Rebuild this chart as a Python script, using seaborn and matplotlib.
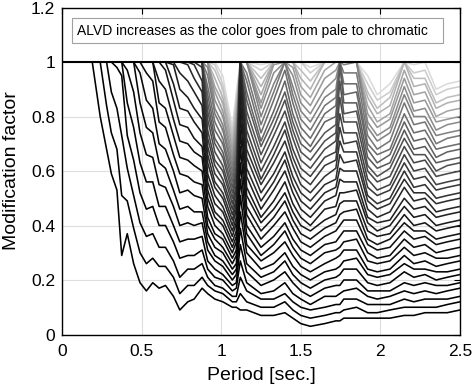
import numpy as np
import pandas as pd
import seaborn as sns
from matplotlib import pyplot as plt
from matplotlib.patches import Rectangle

### 0. Data ==============================================================
# Periods [sec.] at which the curves were read off the figure
period = [0.19, 0.24, 0.28, 0.31, 0.345, 0.375, 0.41, 0.45, 0.49, 0.53,
          0.57, 0.61, 0.65, 0.70, 0.74, 0.79, 0.83, 0.88, 0.915, 0.96,
          1.01, 1.07, 1.095, 1.12, 1.16, 1.25, 1.33, 1.40, 1.45, 1.50,
          1.56, 1.65, 1.72, 1.745, 1.77, 1.85, 1.92, 1.98, 2.06, 2.15,
          2.21, 2.28, 2.35, 2.42, 2.50]

# Modification factor (%) at each period, one row per period, curves
# listed from the darkest (largest ALVD) to the palest; 100 = capped at 1
factor_pct = [
    [100] * 34,  # 0.19
    [80] + [100] * 33,  # 0.24
    [68, 84] + [100] * 32,  # 0.28
    [59, 74, 89] + [100] * 31,  # 0.31
    [53, 68, 83, 98] + [100] * 30,  # 0.345
    [29, 51, 73, 95] + [100] * 30,  # 0.375
    [37, 49, 61, 73, 85, 97] + [100] * 28,  # 0.41
    [26, 39, 51, 64, 76, 89] + [100] * 28,  # 0.45
    [19, 30, 41, 52, 63, 74, 85, 96] + [100] * 26,  # 0.49
    [16, 26, 36, 46, 56, 66, 76, 86, 96] + [100] * 25,  # 0.53
    [19, 28, 37, 47, 56, 65, 74, 83, 93] + [100] * 25,  # 0.57
    [17, 25, 32, 40, 47, 55, 63, 70, 78, 85, 93] + [100] * 23,  # 0.61
    [18, 25, 32, 40, 47, 54, 61, 68, 76, 83, 90, 97] + [100] * 22,  # 0.65
    [14, 21, 27, 34, 40, 47, 53, 60, 66, 73, 79, 86, 92, 99] + [100] * 20,  # 0.70
    [9, 15, 21, 28, 34, 40, 46, 52, 59, 65, 71, 77, 83, 90, 96] + [100] * 19,  # 0.74
    [12, 18, 24, 29, 35, 41, 47, 53, 58, 64, 70, 76, 82, 87, 93, 99] + [100] * 18,  # 0.79
    [13, 18, 24, 29, 35, 40, 45, 51, 56, 62, 67, 72, 78, 83, 89, 94, 99] + [100] * 17,  # 0.83
    [17, 21, 26, 31, 36, 41, 45, 50, 55, 60, 65, 69, 74, 79, 84, 89, 93, 98] + [100] * 16,  # 0.88
    [15, 18, 21, 24, 27, 31, 34, 37, 40, 43, 47, 50, 53, 56, 59, 63, 66, 69,
     72, 75, 79, 82, 85, 88, 91, 95, 98] + [100] * 7,  # 0.915
    [13, 16, 18, 21, 24, 27, 29, 32, 35, 37, 40, 43, 45, 48, 51, 54, 56, 59,
     62, 64, 67, 70, 72, 75, 78, 81, 83, 86, 89, 91, 94, 97, 99, 100],  # 0.96
    [12, 15, 17, 20, 22, 25, 27, 30, 32, 35, 37, 40, 42, 45, 47, 50, 52, 55,
     57, 60, 62, 65, 67, 70, 72, 75, 77, 80, 82, 85, 87, 90, 92, 95],  # 1.01
    [10, 12, 14, 16, 18, 20, 22, 24, 26, 28, 30, 32, 34, 36, 38, 40, 42, 44,
     46, 48, 50, 52, 54, 56, 58, 60, 62, 64, 66, 68, 70, 72, 74, 76],  # 1.07
    [10, 12, 14, 17, 19, 22, 24, 26, 29, 31, 34, 36, 38, 41, 43, 46, 48, 50,
     53, 55, 58, 60, 62, 65, 67, 70, 72, 74, 77, 79, 82, 84, 86, 89],  # 1.095
    [9, 15, 21, 27, 33, 39, 45, 51, 57, 63, 69, 75, 81, 87, 93, 99] + [100] * 18,  # 1.12
    [9, 12, 16, 19, 23, 26, 30, 33, 37, 40, 44, 47, 51, 54, 58, 61, 65, 68,
     72, 75, 79, 82, 86, 89, 93, 96] + [100] * 8,  # 1.16
    [7, 10, 13, 15, 18, 21, 24, 27, 29, 32, 35, 38, 41, 43, 46, 49, 52, 55,
     57, 60, 63, 66, 69, 71, 74, 77, 80, 83, 85, 88, 91, 94, 97, 99],  # 1.25
    [7, 10, 13, 16, 20, 23, 26, 30, 33, 36, 40, 43, 46, 49, 53, 56, 59, 63,
     66, 69, 73, 76, 79, 82, 86, 89, 92, 96, 99] + [100] * 5,  # 1.33
    [8, 12, 15, 19, 23, 27, 30, 34, 38, 41, 45, 49, 52, 56, 60, 64, 67, 71,
     75, 78, 82, 86, 89, 93, 97] + [100] * 9,  # 1.40
    [6, 9, 12, 15, 19, 22, 25, 29, 32, 35, 39, 42, 45, 48, 52, 55, 58, 62,
     65, 68, 72, 75, 78, 81, 85, 88, 91, 95, 98] + [100] * 5,  # 1.45
    [4, 7, 10, 13, 16, 19, 22, 25, 28, 31, 34, 37, 40, 43, 46, 49, 52, 55,
     58, 61, 64, 67, 70, 73, 76, 79, 82, 85, 88, 91, 94, 97] + [100] * 2,  # 1.50
    [3, 6, 9, 11, 14, 17, 20, 23, 26, 29, 32, 35, 38, 40, 43, 46, 49, 52,
     55, 58, 61, 64, 67, 69, 72, 75, 78, 81, 84, 87, 90, 93, 96, 98],  # 1.56
    [4, 7, 10, 14, 17, 20, 23, 26, 30, 33, 36, 39, 42, 46, 49, 52, 55, 58,
     62, 65, 68, 71, 74, 78, 81, 84, 87, 90, 94, 97] + [100] * 4,  # 1.65
    [5, 8, 11, 14, 18, 21, 24, 28, 31, 34, 38, 41, 44, 47, 51, 54, 57, 61,
     64, 67, 71, 74, 77, 80, 84, 87, 90, 94, 97] + [100] * 5,  # 1.72
    [5, 8, 11, 15, 18, 22, 25, 29, 32, 36, 40, 44, 48, 52, 57, 61, 66, 71,
     76, 81, 87, 93, 99] + [100] * 11,  # 1.745
    [6, 9, 13, 16, 20, 24, 27, 31, 34, 38, 42, 45, 49, 52, 56, 60, 63, 67,
     70, 74, 78, 81, 85, 88, 92, 96, 99] + [100] * 7,  # 1.77
    [6, 10, 13, 17, 20, 24, 28, 31, 35, 38, 42, 46, 49, 53, 56, 60, 64, 67,
     71, 74, 78, 82, 85, 89, 92, 96] + [100] * 8,  # 1.85
    [6, 8, 11, 14, 16, 19, 22, 24, 27, 30, 33, 35, 38, 41, 43, 46, 49, 51,
     54, 57, 60, 62, 65, 68, 70, 73, 76, 78, 81, 84, 87, 89, 92, 95],  # 1.92
    [6, 8, 11, 13, 16, 18, 21, 23, 26, 28, 31, 33, 36, 38, 41, 43, 46, 48,
     51, 53, 56, 58, 61, 63, 66, 68, 71, 73, 76, 78, 81, 83, 86, 88],  # 1.98
    [6, 9, 11, 14, 16, 19, 22, 24, 27, 29, 32, 35, 37, 40, 42, 45, 48, 50,
     53, 55, 58, 61, 63, 66, 68, 71, 74, 76, 79, 81, 84, 87, 89, 92],  # 2.06
    [7, 10, 13, 16, 19, 23, 26, 29, 32, 35, 38, 41, 44, 47, 50, 54, 57, 60,
     63, 66, 69, 72, 75, 78, 81, 85, 88, 91, 94, 97] + [100] * 4,  # 2.15
    [7, 10, 12, 15, 18, 21, 24, 26, 29, 32, 35, 38, 40, 43, 46, 49, 52, 54,
     57, 60, 63, 66, 68, 71, 74, 77, 80, 82, 85, 88, 91, 94, 96, 99],  # 2.21
    [8, 10, 13, 16, 19, 22, 24, 27, 30, 33, 36, 38, 41, 44, 47, 50, 52, 55,
     58, 61, 64, 66, 69, 72, 75, 78, 80, 83, 86, 89, 92, 94, 97, 100],  # 2.28
    [8, 10, 13, 15, 18, 20, 23, 25, 28, 30, 33, 35, 38, 40, 43, 45, 48, 50,
     53, 55, 58, 60, 63, 65, 68, 70, 73, 75, 78, 80, 83, 85, 88, 90],  # 2.35
    [8, 11, 13, 16, 18, 21, 23, 26, 28, 31, 34, 36, 39, 41, 44, 46, 49, 51,
     54, 56, 59, 62, 64, 67, 69, 72, 74, 77, 79, 82, 85, 87, 90, 92],  # 2.42
    [9, 12, 14, 17, 19, 22, 24, 27, 29, 32, 35, 37, 40, 42, 45, 47, 50, 52,
     55, 57, 60, 63, 65, 68, 70, 73, 75, 78, 80, 83, 86, 88, 91, 93],  # 2.50
]

x_ticks = [0, 0.5, 1, 1.5, 2, 2.5]
x_tick_labels = ["0", "0.5", "1", "1.5", "2", "2.5"]
y_ticks = [0, 0.2, 0.4, 0.6, 0.8, 1.0, 1.2]
y_tick_labels = ["0", "0.2", "0.4", "0.6", "0.8", "1", "1.2"]
note = "ALVD increases as the color goes from pale to chromatic"

n_curves = len(factor_pct[0])
assert len(period) == len(factor_pct), (len(period), len(factor_pct))
for t, row in zip(period, factor_pct):
    assert len(row) == n_curves, (t, len(row))

# long-form table for seaborn
records = []
for t, row in zip(period, factor_pct):
    for k, v in enumerate(row):
        records.append((t, v / 100.0, k))
df = pd.DataFrame(records, columns=["Period", "Factor", "Curve"])

### 1. Plot ==============================================================
sns.set_theme(style="whitegrid")
plt.rcParams["font.family"] = ["Liberation Sans", "DejaVu Sans"]

fig = plt.figure(figsize=(4.74, 3.89), dpi=100)
ax = fig.add_axes([0.1308, 0.1401, 0.8397, 0.8406])

# k = 0 is black, highest k is pale grey; pale ones drawn first
greys = {k: str(round(0.86 * (k / (n_curves - 1)) ** 2.2, 3)) for k in range(n_curves)}
sns.lineplot(
    data=df, x="Period", y="Factor", hue="Curve",
    hue_order=list(range(n_curves - 1, -1, -1)),
    palette=greys, legend=False, linewidth=1.15, estimator=None, ax=ax,
)
ax.axhline(1.0, color="black", linewidth=1.5, zorder=5)

ax.set_xlim(0, 2.5)
ax.set_ylim(0, 1.2)
ax.set_xticks(x_ticks)
ax.set_xticklabels(x_tick_labels)
ax.set_yticks(y_ticks)
ax.set_yticklabels(y_tick_labels)
ax.tick_params(direction="in", length=4, width=0.8, top=True, right=True,
               labelsize=12.5, colors="black")
ax.tick_params(axis="x", pad=7)
ax.tick_params(axis="y", pad=5)
ax.grid(True, color="#dedede", linewidth=0.8)
for s in ax.spines.values():
    s.set_color("black")
    s.set_linewidth(1.0)
    s.set_zorder(6)

ax.set_xlabel("Period [sec.]", fontsize=14, color="black")
ax.set_ylabel("Modification factor", fontsize=14, color="black")
ax.xaxis.set_label_coords(0.5, -0.1)
ax.yaxis.set_label_coords(-0.105, 0.5)

# annotation box (MATLAB-legend look)
ax.add_patch(Rectangle((0.0251, 0.8914), 0.932, 0.0765, transform=ax.transAxes,
                       facecolor="white", edgecolor="#a0a0a0", linewidth=0.8,
                       zorder=7))
ax.text(0.038, 0.929, note, transform=ax.transAxes, fontsize=10,
        va="center", ha="left", color="black", zorder=8)

fig.savefig("out.png", dpi=100)
